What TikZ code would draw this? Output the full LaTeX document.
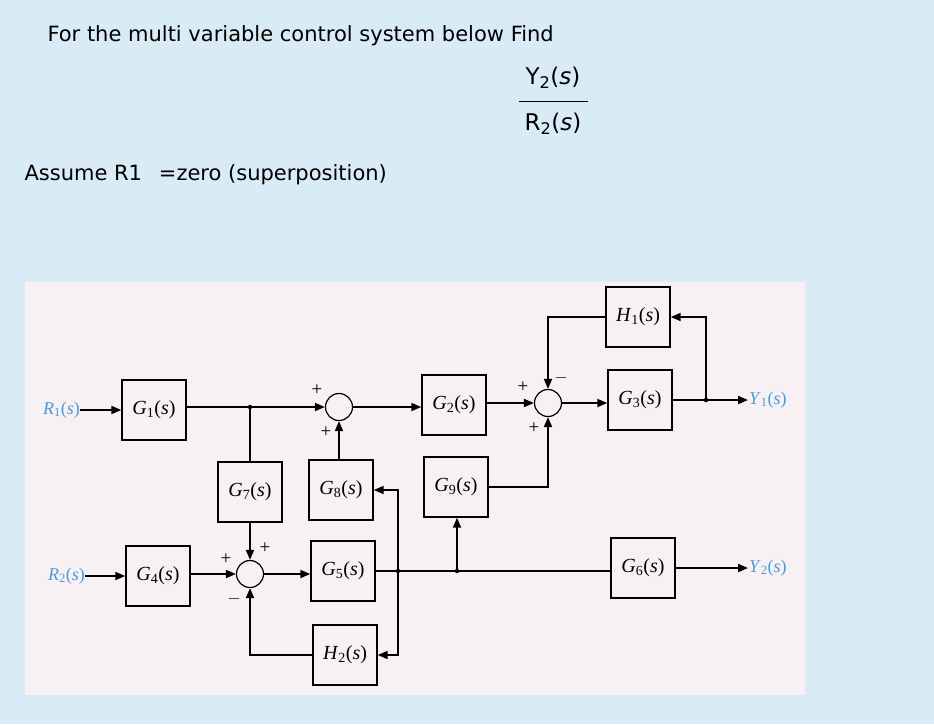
\documentclass[tikz,border=0pt]{standalone}
\usepackage{fontspec}
\newfontfamily\sans{DejaVu Sans}
\setmainfont{Liberation Serif}
\usetikzlibrary{arrows.meta}
\definecolor{bg}{HTML}{D9ECF6}
\definecolor{photo}{HTML}{F7F1F3}
\definecolor{lbl}{HTML}{4A9AD6}
\newcommand{\blab}[3]{\textit{#1}\textsubscript{#2}(\textit{#3})}
\begin{document}
\begin{tikzpicture}[x=1pt,y=-1pt,
  blk/.style={draw,line width=1.4pt,minimum width=64pt,minimum height=60pt,inner sep=0pt,font=\fontsize{20}{20}\selectfont},
  sum/.style={draw,circle,line width=1.2pt,minimum size=27pt,inner sep=0pt},
  ln/.style={line width=1.8pt},
  ar/.style={ln,-{Triangle[length=10pt,width=8pt]}},
  sg/.style={font=\fontsize{19}{19}\selectfont},
  io/.style={text=lbl,font=\fontsize{18}{18}\selectfont},
  dot/.style={circle,fill,inner sep=0pt,minimum size=4.5pt}]
\useasboundingbox (0,0) rectangle (934,724);
\fill[bg] (0,0) rectangle (934,724);
\fill[photo] (25,282) rectangle (805,695);
\node[anchor=west,font=\sans\fontsize{21}{21}\selectfont] (t1) at (44,36) {For the multi variable control system below Find};
\node[font=\sans\fontsize{23}{23}\selectfont] (num) at (553,78) {Y\textsubscript{2}(\textit{s})};
\node[font=\sans\fontsize{23}{23}\selectfont] (den) at (553,124) {R\textsubscript{2}(\textit{s})};
\draw[line width=0.8pt] (519,101) -- (588,101);
\node[anchor=west,font=\sans\fontsize{21}{21}\selectfont] (t2) at (21,175) {Assume R1 \ \,=zero (superposition)};
% blocks
\node[blk] (G1) at (154,410) {\blab{G}{1}{s}};
\node[blk] (G2) at (454,405) {\blab{G}{2}{s}};
\node[blk] (G3) at (640,400) {\blab{G}{3}{s}};
\node[blk] (H1) at (638,317) {\blab{H}{1}{s}};
\node[blk] (G7) at (250,492) {\blab{G}{7}{s}};
\node[blk] (G8) at (341,490) {\blab{G}{8}{s}};
\node[blk] (G9) at (456,487) {\blab{G}{9}{s}};
\node[blk] (G4) at (158,576) {\blab{G}{4}{s}};
\node[blk] (G5) at (343,571) {\blab{G}{5}{s}};
\node[blk] (G6) at (643,568) {\blab{G}{6}{s}};
\node[blk] (H2) at (345,655) {\blab{H}{2}{s}};
\node[sum] (S1) at (339,407) {};
\node[sum] (S3) at (548,403) {};
\node[sum] (S2) at (250,574) {};
\node[io,anchor=east,inner sep=0pt] (R1) at (80,410) {\blab{R}{1}{s}};
\node[io,anchor=east,inner sep=0pt] (R2) at (85,576) {\blab{R}{2}{s}};
\node[io,anchor=west,inner sep=1pt] (Y1) at (748,400) {\blab{Y}{1}{s}};
\node[io,anchor=west,inner sep=1pt] (Y2) at (748,568) {\blab{Y}{2}{s}};
\coordinate (j1) at (250,407);
\coordinate (j2) at (398,571);
\coordinate (j3) at (457,571);
\coordinate (j4) at (706,400);
% connectors
\draw[ar] (R1) -- (G1);
\draw[ln] (G1.east |- j1) -- (j1);
\draw[ar] (j1) -- (S1.west);
\draw[ln] (j1) -- (G7.north);
\draw[ar] (G7.south) -- (S2.north);
\draw[ar] (G8.north -| S1) -- (S1.south);
\draw[ar] (S1.east) -- (G2.west |- S1);
\draw[ar] (G2.east |- S3) -- (S3.west);
\draw[ar] (S3.east) -- (G3.west |- S3);
\draw[ln] (G3.east |- j4) -- (j4);
\draw[ar] (j4) -- (Y1.west);
\draw[ar] (j4) |- (H1.east);
\draw[ar] (H1.west) -| (S3.north);
\draw[ar] (G9.east) -| (S3.south);
\draw[ar] (R2) -- (G4);
\draw[ar] (G4.east |- S2) -- (S2.west);
\draw[ar] (S2.east) -- (G5.west |- S2);
\draw[ln] (G5.east |- j2) -- (j2) -- (j3) -- (G6.west |- j3);
\draw[ar] (G6.east |- Y2) -- (Y2.west);
\draw[ar] (j2) |- (G8.east);
\draw[ar] (j2) |- (H2.east);
\draw[ar] (H2.west) -| (S2.south);
\draw[ar] (j3) -- (G9.south -| j3);
\node[dot] at (j1) {};\node[dot] at (j2) {};\node[dot] at (j3) {};\node[dot] at (j4) {};
% signs
\node[sg] at (317,390) {+};
\node[sg] at (326,432) {+};
\node[sg] at (523,387) {+};
\node[sg] at (534,428) {+};
\node[sg] at (561,378) {$-$};
\node[sg] at (226,559) {+};
\node[sg] at (265,548) {+};
\node[sg] at (234,599) {$-$};
\end{tikzpicture}
\end{document}
